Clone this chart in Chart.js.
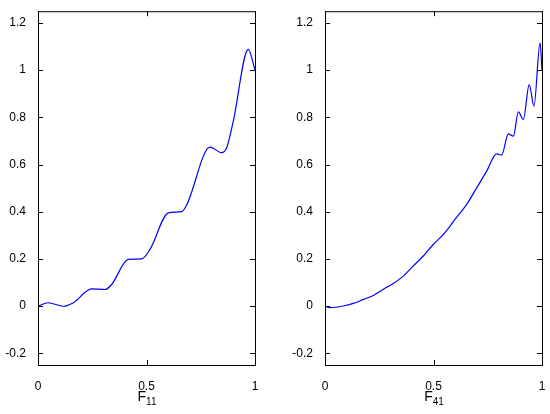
<!DOCTYPE html><html><head><script src="https://cdn.jsdelivr.net/npm/chart.js"></script>
<style>body{margin:0;background:#fff;font-family:Arial,"Liberation Sans",sans-serif}
canvas{position:absolute;top:0}.lab{position:absolute;top:388px;font-size:14px;width:40px;text-align:center;line-height:16px}
.lab span{font-size:10px;position:relative;top:4px}</style></head><body>
<div style="position:absolute;left:0;top:0;width:270px;height:400px"><canvas id="c1"></canvas></div>
<div style="position:absolute;left:287px;top:0;width:270px;height:400px"><canvas id="c2"></canvas></div>
<div class="lab" style="left:127px">F<span>11</span></div>
<div class="lab" style="left:414px">F<span>41</span></div>
<script>
const x1=[0,0.047,0.117,0.163,0.247,0.309,0.34,0.416,0.478,0.516,0.601,0.662,0.685,0.793,0.846,0.869,0.9,0.969,1.0];
const y1=[0,0.014,-0.001,0.014,0.073,0.07,0.092,0.198,0.2,0.24,0.395,0.4,0.428,0.674,0.65,0.67,0.784,1.088,1.0];
const x2=[0,0.023,0.084,0.13,0.177,0.223,0.269,0.315,0.361,0.407,0.453,0.499,0.553,0.599,0.653,0.699,0.745,0.791,0.814,0.845,0.868,0.891,0.914,0.941,0.963,0.991,1.0];
const y2=[0,-0.007,0,0.011,0.028,0.045,0.071,0.096,0.127,0.17,0.212,0.261,0.311,0.367,0.431,0.501,0.572,0.645,0.64,0.73,0.72,0.823,0.791,0.939,0.847,1.116,1.0];
const yTicks=[-0.2,0,0.2,0.4,0.6,0.8,1,1.2];
const xTicks=[0,0.5,1];
const box={id:'box',afterDatasetsDraw(c){const a=c.chartArea,g=c.ctx;g.save();g.strokeStyle='#000';g.lineWidth=1;
g.strokeRect(a.left+0.5,a.top+0.5,a.right-a.left,a.bottom-a.top);
g.beginPath();yTicks.forEach(v=>{const p=Math.round(c.scales.y.getPixelForValue(v))+0.5;g.moveTo(a.left,p);g.lineTo(a.left+5,p);g.moveTo(a.right,p);g.lineTo(a.right-5,p);});
xTicks.forEach(v=>{const p=Math.round(c.scales.x.getPixelForValue(v))+0.5;g.moveTo(p,a.bottom);g.lineTo(p,a.bottom-5);g.moveTo(p,a.top);g.lineTo(p,a.top+5);});
g.stroke();g.restore();}};
function mk(id,xs,ys){new Chart(document.getElementById(id),{type:'line',
data:{datasets:[{data:xs.map((x,i)=>({x,y:ys[i]})),borderColor:'#0000ff',borderWidth:1.2,pointRadius:0,tension:0.4,cubicInterpolationMode:'monotone'}]},
options:{animation:false,responsive:true,maintainAspectRatio:false,layout:{padding:{top:8,right:15}},
plugins:{legend:{display:false},tooltip:{enabled:false}},
scales:{x:{type:'linear',min:0,max:1,afterFit:s=>{s.height=35},afterBuildTicks:s=>{s.ticks=xTicks.map(v=>({value:v}))},
grid:{display:false},border:{display:false},ticks:{color:'#000',font:{size:12,family:'Arial'},padding:6,autoSkip:false,maxRotation:0,callback:v=>String(v)}},
y:{min:-0.25,max:1.25,afterFit:s=>{s.width=38},afterBuildTicks:s=>{s.ticks=yTicks.map(v=>({value:v}))},
grid:{display:false},border:{display:false},ticks:{color:'#000',font:{size:12,family:'Arial'},padding:4,callback:v=>String(Math.round(v*10)/10)}}}},plugins:[box]});}
mk('c1',x1,y1);mk('c2',x2,y2);
</script></body></html>
